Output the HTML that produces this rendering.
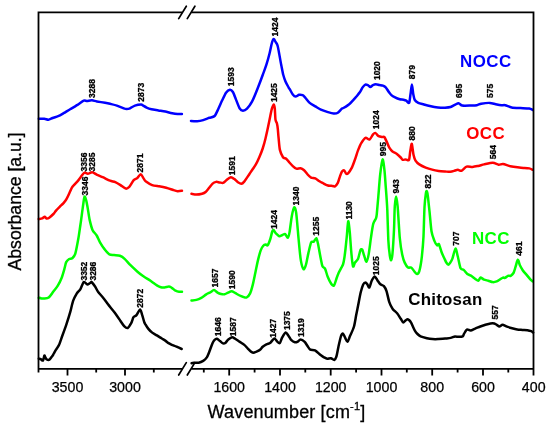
<!DOCTYPE html><html><head><meta charset="utf-8"><style>html,body{margin:0;padding:0;background:#fff;}svg{display:block;filter:blur(0.3px);}</style></head><body>
<svg width="550" height="427" viewBox="0 0 550 427">
<rect width="550" height="427" fill="#fff"/>
<path d="M38.8,118.7C39.5,118.7 43.0,118.6 44.3,118.7C45.6,118.8 47.3,119.8 48.4,119.7C49.5,119.6 51.3,118.5 52.6,118.0C53.9,117.5 56.6,116.8 58.1,116.2C59.6,115.6 61.9,114.2 63.6,113.2C65.3,112.2 68.6,110.1 70.5,109.0C72.4,107.9 75.7,106.0 77.5,104.9C79.3,103.8 82.4,101.2 83.7,100.7C85.0,100.2 86.0,101.1 87.1,101.0C88.2,100.9 90.7,100.2 92.0,100.3C93.3,100.4 95.1,101.1 96.8,101.4C98.5,101.7 103.3,102.5 105.1,102.8C106.9,103.1 108.4,103.4 110.0,103.8C111.6,104.2 115.1,105.0 116.9,105.6C118.7,106.2 122.5,107.8 123.8,108.3C125.1,108.8 125.8,109.0 126.6,109.0C127.4,109.0 128.9,108.8 130.0,108.3C131.1,107.8 133.4,106.1 134.9,105.6C136.4,105.1 140.0,104.6 141.1,104.6C142.2,104.6 142.5,105.2 143.2,105.6C143.9,106.0 145.5,107.1 146.6,107.6C147.7,108.1 149.9,108.9 151.5,109.3C153.1,109.7 156.6,110.1 158.4,110.4C160.2,110.7 163.5,111.1 165.3,111.5C167.1,111.9 170.5,112.9 172.2,113.2C173.9,113.5 176.4,113.8 177.7,113.9C179.0,114.0 181.3,113.9 181.9,113.9" fill="none" stroke="#0000ff" stroke-width="2.50" stroke-linejoin="round" stroke-linecap="round"/>
<path d="M191.0,120.9C191.8,121.0 195.5,121.4 197.1,121.3C198.7,121.2 201.6,120.6 203.2,120.1C204.8,119.6 207.8,118.3 209.3,117.8C210.8,117.3 213.4,117.2 214.6,116.0C215.8,114.8 217.4,110.8 218.4,108.7C219.4,106.6 221.2,102.4 222.2,100.3C223.2,98.2 225.0,94.1 226.0,92.7C227.0,91.3 229.0,89.8 229.9,89.7C230.8,89.6 232.1,90.7 232.9,92.0C233.7,93.3 235.1,97.4 236.0,99.6C236.9,101.8 238.9,107.2 239.8,108.7C240.7,110.2 242.0,110.7 243.0,110.7C244.0,110.7 245.8,109.9 247.0,108.7C248.2,107.5 250.5,104.5 252.0,101.7C253.5,98.9 256.5,91.4 257.9,87.8C259.3,84.2 261.6,78.1 262.7,75.0C263.8,71.9 265.5,67.6 266.4,64.7C267.3,61.8 268.9,56.0 269.6,53.2C270.3,50.4 271.2,45.6 271.7,43.7C272.2,41.8 273.1,39.3 273.6,39.0C274.1,38.7 274.9,40.8 275.4,41.6C275.9,42.4 277.0,43.8 277.5,45.3C278.0,46.8 278.6,50.6 279.1,53.2C279.6,55.8 280.6,61.8 281.2,64.7C281.8,67.6 282.7,72.8 283.3,75.0C283.9,77.2 284.8,79.8 285.5,81.5C286.2,83.2 288.2,86.7 288.8,87.8C289.4,88.9 289.5,88.7 290.0,89.6C290.5,90.5 292.1,93.6 292.8,94.5C293.5,95.4 294.8,96.6 295.6,96.6C296.4,96.6 298.2,95.0 299.1,94.8C300.0,94.6 301.7,94.8 302.6,95.2C303.5,95.6 304.6,97.0 305.5,98.0C306.4,99.0 308.4,101.8 309.7,102.9C311.0,104.0 313.8,105.5 315.3,106.4C316.8,107.3 319.2,108.9 320.9,109.7C322.6,110.5 326.2,111.6 327.9,112.1C329.6,112.6 332.3,113.4 333.6,113.5C334.9,113.6 336.7,113.5 337.8,112.8C338.9,112.1 341.0,109.4 342.0,108.6C343.0,107.8 344.5,107.5 345.5,106.9C346.5,106.3 348.2,105.1 349.2,104.3C350.2,103.5 351.8,101.7 352.7,100.7C353.6,99.7 355.3,97.9 356.2,96.8C357.1,95.7 358.9,93.6 359.8,92.3C360.7,91.0 361.9,88.4 362.6,87.4C363.3,86.4 364.7,84.9 365.4,84.6C366.1,84.3 367.5,85.0 368.2,85.3C368.9,85.6 369.6,87.0 370.3,87.0C371.0,87.0 372.4,85.4 373.1,85.0C373.8,84.6 375.1,84.2 375.9,84.2C376.7,84.2 378.5,84.8 379.4,85.0C380.3,85.2 382.1,85.4 382.9,85.7C383.7,86.0 384.9,86.6 385.7,87.4C386.5,88.2 387.8,90.6 388.6,91.6C389.4,92.6 390.5,94.3 391.4,95.1C392.3,95.9 394.5,97.1 395.6,97.7C396.7,98.3 398.7,99.0 399.8,99.3C400.9,99.6 402.6,99.5 403.5,99.7C404.4,99.9 405.6,100.3 406.3,100.7C407.0,101.1 408.5,103.7 409.1,102.8C409.7,101.9 410.1,96.7 410.5,94.3C410.9,91.9 411.5,84.5 411.9,84.5C412.3,84.5 412.9,92.2 413.3,94.3C413.7,96.4 414.1,98.9 414.8,100.0C415.5,101.1 417.1,102.2 418.3,102.8C419.5,103.4 422.2,104.0 423.9,104.5C425.6,105.0 429.0,105.9 430.9,106.3C432.8,106.7 436.0,107.2 437.9,107.4C439.8,107.6 443.3,107.8 445.0,107.7C446.7,107.6 449.3,107.4 450.6,107.0C451.9,106.6 453.7,105.4 454.8,104.9C455.9,104.4 457.6,103.1 458.6,103.2C459.6,103.3 460.8,105.3 462.3,105.6C463.8,105.9 467.6,105.7 469.5,105.6C471.4,105.5 475.2,105.5 476.8,105.2C478.4,104.9 479.5,104.0 481.2,103.7C482.9,103.4 488.0,102.8 489.9,102.9C491.8,103.0 494.2,103.9 495.7,104.2C497.2,104.5 500.2,105.1 501.5,105.2C502.8,105.3 503.8,104.9 505.2,105.2C506.6,105.5 509.7,107.1 511.7,107.5C513.7,107.9 518.2,108.0 520.5,108.1C522.8,108.2 527.6,108.2 529.2,108.5C530.8,108.8 532.3,109.8 532.8,110.0" fill="none" stroke="#0000ff" stroke-width="2.50" stroke-linejoin="round" stroke-linecap="round"/>
<path d="M38.7,219.1C39.2,219.0 41.4,218.7 42.2,218.4C43.0,218.1 44.1,216.7 44.7,216.7C45.3,216.7 45.8,218.3 46.4,218.4C47.0,218.5 48.3,218.3 49.2,217.7C50.1,217.1 52.5,214.9 53.4,214.0C54.3,213.1 55.2,211.6 56.0,210.6C56.8,209.6 58.7,207.8 59.7,206.8C60.7,205.8 62.6,204.1 63.5,203.1C64.4,202.1 65.6,200.7 66.3,199.4C67.0,198.1 68.4,195.3 69.1,193.7C69.8,192.1 71.2,188.9 71.9,187.6C72.6,186.3 73.8,185.3 74.7,184.3C75.6,183.3 77.5,181.3 78.5,180.1C79.5,178.9 81.4,176.0 82.2,175.0C83.0,174.0 83.9,172.8 84.6,172.6C85.3,172.4 86.8,173.7 87.8,173.7C88.8,173.7 91.0,172.2 92.2,172.3C93.4,172.4 95.2,173.9 96.6,174.6C98.0,175.3 100.9,176.4 102.7,177.2C104.5,178.0 108.3,180.0 110.0,180.7C111.7,181.4 113.9,181.5 115.3,182.1C116.7,182.7 119.1,184.2 120.5,185.1C121.9,186.0 124.6,188.4 125.8,188.6C127.0,188.8 128.2,188.0 129.3,186.9C130.4,185.8 132.6,181.4 133.7,180.2C134.8,179.0 136.3,178.9 137.2,178.1C138.1,177.3 139.9,174.2 140.7,174.2C141.5,174.2 142.7,177.1 143.4,178.1C144.1,179.1 144.8,180.7 146.0,181.6C147.2,182.5 150.4,184.5 152.1,185.1C153.8,185.7 157.2,186.0 159.1,186.3C161.0,186.6 164.3,187.2 166.2,187.7C168.1,188.2 171.7,189.5 173.2,190.0C174.7,190.5 176.4,191.1 177.6,191.2C178.8,191.3 181.4,190.8 182.0,190.7" fill="none" stroke="#ff0000" stroke-width="2.50" stroke-linejoin="round" stroke-linecap="round"/>
<path d="M191.5,193.8C192.2,193.9 195.0,194.5 196.4,194.5C197.8,194.5 200.9,194.0 202.1,193.7C203.3,193.4 204.7,192.8 205.6,192.0C206.5,191.2 208.2,188.9 209.1,187.8C210.0,186.7 211.7,184.4 212.6,183.6C213.5,182.8 215.2,182.1 216.1,181.9C217.0,181.7 218.7,182.3 219.6,182.4C220.5,182.5 222.2,183.2 223.1,182.9C224.0,182.6 225.6,180.8 226.6,180.0C227.6,179.2 229.9,177.3 230.9,177.2C231.9,177.1 233.5,178.4 234.4,179.1C235.3,179.8 237.0,181.6 237.9,182.2C238.8,182.8 240.6,183.9 241.4,183.8C242.2,183.7 243.1,182.9 244.2,181.6C245.3,180.3 248.2,175.8 249.3,174.2C250.4,172.6 251.7,170.6 252.6,169.3C253.5,168.0 255.1,165.8 256.0,164.2C256.9,162.6 258.5,159.1 259.4,157.0C260.3,154.9 261.9,151.0 262.7,148.5C263.5,146.0 264.8,141.5 265.5,138.5C266.2,135.5 267.6,129.3 268.2,126.3C268.8,123.3 269.8,118.4 270.3,116.0C270.8,113.6 271.4,110.1 271.9,108.6C272.4,107.1 273.3,104.4 273.7,104.4C274.1,104.4 274.6,106.6 274.8,108.6C275.0,110.6 275.2,117.6 275.5,119.6C275.8,121.6 276.6,122.1 276.9,123.3C277.2,124.5 277.6,126.9 277.8,128.9C278.0,130.9 278.3,135.2 278.6,138.0C278.9,140.8 279.3,147.3 279.9,149.9C280.5,152.5 282.2,156.0 283.0,157.2C283.8,158.4 285.3,158.0 286.2,158.7C287.1,159.4 288.5,161.5 289.4,162.5C290.3,163.5 291.9,165.3 292.8,166.1C293.7,166.9 295.3,168.3 296.3,168.6C297.3,168.9 299.5,168.0 300.5,168.2C301.5,168.4 303.2,169.5 304.1,170.3C305.0,171.1 306.7,173.5 307.6,174.5C308.5,175.5 310.1,177.1 311.1,177.6C312.1,178.1 314.2,177.9 315.3,178.4C316.4,178.9 318.4,180.6 319.5,181.3C320.6,182.0 322.6,183.0 323.7,183.6C324.8,184.2 326.9,185.2 327.9,185.5C328.9,185.8 330.5,185.6 331.4,185.7C332.3,185.8 334.1,186.8 335.0,186.4C335.9,186.0 337.1,184.2 337.8,182.9C338.5,181.6 339.3,178.1 339.9,176.6C340.5,175.1 341.4,172.2 342.0,171.4C342.6,170.6 343.5,170.0 344.1,170.3C344.7,170.6 345.6,173.4 346.2,173.8C346.8,174.2 347.6,173.8 348.3,173.1C349.0,172.4 350.7,169.9 351.6,168.2C352.5,166.5 353.9,162.4 354.8,160.0C355.7,157.6 357.2,152.4 358.1,150.1C359.0,147.8 360.4,144.4 361.4,142.8C362.4,141.2 364.4,138.2 365.5,137.8C366.6,137.4 368.6,139.9 369.6,139.5C370.6,139.1 372.1,135.5 372.9,134.6C373.7,133.7 374.5,132.7 375.3,132.9C376.1,133.1 377.7,135.7 378.6,136.2C379.5,136.7 381.1,136.9 381.9,137.0C382.7,137.1 383.6,136.3 384.3,137.0C385.0,137.7 386.1,140.5 386.8,141.9C387.5,143.3 388.5,146.4 389.3,147.7C390.1,149.0 391.5,150.7 392.5,151.5C393.5,152.3 395.5,153.0 396.6,153.8C397.7,154.6 399.9,156.7 400.7,157.5C401.5,158.3 401.9,159.5 402.6,159.8C403.3,160.1 404.9,159.4 405.8,159.4C406.7,159.4 408.4,161.0 409.0,159.9C409.6,158.8 409.9,153.0 410.3,150.9C410.7,148.8 411.4,143.3 411.8,143.8C412.2,144.3 413.0,152.6 413.5,154.8C414.0,157.0 414.7,159.3 415.5,160.6C416.3,161.9 417.9,163.5 419.3,164.4C420.7,165.3 424.0,166.9 425.7,167.6C427.4,168.3 430.5,169.2 432.2,169.6C433.9,170.0 436.9,170.6 438.6,170.9C440.3,171.2 443.6,171.4 445.1,171.5C446.6,171.6 449.0,171.9 450.2,171.8C451.4,171.7 453.1,171.2 454.1,170.9C455.1,170.6 456.9,169.8 457.9,169.8C458.9,169.8 460.3,171.2 461.5,170.8C462.7,170.4 465.1,167.1 466.6,166.6C468.1,166.1 470.9,167.0 472.5,166.9C474.1,166.8 476.8,166.2 478.3,165.9C479.8,165.6 482.2,164.8 484.1,164.4C486.0,164.0 490.9,162.8 492.8,162.8C494.7,162.8 497.2,164.5 498.6,164.7C500.0,164.9 501.4,163.8 503.0,164.0C504.6,164.2 508.4,165.8 510.3,166.2C512.2,166.6 515.8,167.1 517.5,167.3C519.2,167.5 521.8,167.8 523.4,167.9C525.0,168.0 527.9,168.1 529.2,168.4C530.5,168.7 532.3,169.6 532.8,169.8" fill="none" stroke="#ff0000" stroke-width="2.50" stroke-linejoin="round" stroke-linecap="round"/>
<path d="M38.8,297.8C39.2,297.9 40.9,298.3 41.6,298.4C42.3,298.5 43.2,298.7 44.1,298.6C45.0,298.5 47.5,298.4 48.7,297.5C49.9,296.6 52.0,293.4 53.2,291.8C54.4,290.2 56.7,287.5 57.8,285.7C58.9,283.9 60.7,280.3 61.6,278.0C62.5,275.7 64.0,270.3 64.6,268.2C65.2,266.1 65.6,263.3 66.2,262.1C66.8,260.9 68.4,259.5 69.2,259.0C70.0,258.5 71.4,259.0 72.2,258.3C73.0,257.6 74.5,256.4 75.3,253.7C76.1,251.0 77.7,242.2 78.4,238.3C79.1,234.4 79.9,228.2 80.5,224.3C81.1,220.4 82.1,212.3 82.6,208.9C83.1,205.5 83.7,200.6 84.0,199.0C84.3,197.4 84.6,196.4 84.9,196.6C85.2,196.8 85.8,199.0 86.2,200.4C86.6,201.8 87.1,204.8 87.6,207.4C88.1,210.0 89.0,217.1 89.7,220.1C90.4,223.1 91.6,227.8 92.5,229.9C93.4,232.0 95.7,233.8 96.7,235.5C97.7,237.2 98.9,240.4 100.0,242.3C101.1,244.2 103.4,247.8 104.7,249.4C106.0,251.0 108.1,253.6 109.4,254.3C110.7,255.0 112.7,254.8 114.1,255.0C115.5,255.2 118.5,255.3 119.9,255.8C121.3,256.3 123.2,257.5 124.6,258.8C126.0,260.1 128.8,263.5 130.5,265.2C132.2,266.9 135.8,270.2 137.5,271.7C139.2,273.2 141.8,275.2 143.4,276.3C145.0,277.4 147.8,279.0 149.2,279.9C150.6,280.8 152.5,282.3 153.6,283.1C154.7,283.9 156.3,285.0 157.3,285.6C158.3,286.2 159.9,287.0 160.9,287.3C161.9,287.6 163.4,287.6 164.5,287.5C165.6,287.4 167.9,286.6 168.9,286.6C169.9,286.6 170.9,287.3 171.8,287.8C172.7,288.3 174.5,290.2 175.5,290.7C176.5,291.2 178.2,291.7 179.1,291.8C180.0,291.9 181.6,291.8 182.0,291.8" fill="none" stroke="#00ff00" stroke-width="2.50" stroke-linejoin="round" stroke-linecap="round"/>
<path d="M191.5,300.6C192.2,300.5 195.1,300.3 196.4,299.9C197.7,299.5 200.0,298.5 201.3,297.8C202.6,297.1 205.1,295.0 206.3,294.3C207.5,293.6 209.5,292.8 210.5,292.2C211.5,291.6 213.1,290.0 214.0,290.1C214.9,290.2 216.6,292.1 217.5,292.6C218.4,293.1 220.1,293.8 221.0,294.0C221.9,294.2 223.6,294.5 224.5,294.3C225.4,294.1 227.1,293.0 228.0,292.6C228.9,292.2 230.7,291.2 231.6,291.2C232.5,291.2 234.2,292.4 235.1,292.9C236.0,293.4 237.6,294.5 238.6,295.0C239.6,295.5 241.7,296.5 242.8,296.8C243.9,297.1 245.6,298.0 246.6,297.5C247.6,297.0 249.3,295.1 250.1,293.4C250.9,291.7 252.1,287.4 252.8,284.6C253.5,281.8 254.7,275.7 255.4,272.4C256.1,269.1 257.3,263.0 258.0,260.1C258.7,257.2 260.0,252.3 260.7,250.4C261.4,248.5 262.6,246.5 263.3,245.7C264.0,244.9 265.3,244.7 265.9,244.6C266.5,244.5 267.1,245.9 267.7,245.2C268.3,244.5 269.7,240.8 270.3,239.0C270.9,237.2 271.7,233.2 272.1,232.0C272.5,230.8 273.1,229.8 273.6,230.0C274.1,230.2 275.1,232.6 275.9,233.4C276.7,234.2 278.4,236.0 279.3,236.2C280.2,236.4 281.7,235.3 282.5,235.0C283.3,234.7 284.5,233.6 285.2,234.0C285.9,234.4 287.2,238.1 287.8,237.8C288.4,237.5 289.1,234.8 289.6,231.9C290.1,229.0 291.2,219.6 291.8,216.3C292.4,213.0 293.6,207.7 294.2,207.3C294.8,206.9 295.6,208.9 296.2,213.0C296.8,217.1 297.9,231.7 298.5,238.0C299.1,244.3 300.1,255.9 300.8,260.1C301.5,264.3 302.9,268.6 303.6,269.2C304.3,269.8 305.4,266.6 306.0,264.5C306.6,262.4 307.7,256.0 308.4,253.1C309.1,250.2 310.4,244.0 311.1,242.5C311.8,241.0 313.0,242.3 313.7,241.7C314.4,241.1 315.7,237.9 316.3,238.2C316.9,238.5 317.5,241.6 318.1,244.3C318.7,247.0 320.1,255.4 320.7,258.3C321.3,261.2 321.9,264.8 322.5,266.2C323.1,267.6 324.4,267.5 325.1,268.9C325.8,270.3 326.9,274.8 327.7,276.8C328.5,278.8 330.4,282.6 331.2,283.8C332.0,285.0 333.2,286.2 333.9,285.5C334.6,284.8 335.9,280.2 336.5,278.5C337.1,276.8 338.0,274.4 338.6,273.0C339.2,271.6 340.4,269.4 341.0,268.3C341.6,267.2 342.5,266.0 343.0,264.5C343.5,263.0 344.2,259.1 344.5,257.0C344.8,254.9 345.2,251.6 345.5,249.0C345.8,246.4 346.3,241.1 346.7,237.4C347.1,233.7 347.8,222.2 348.2,221.4C348.6,220.6 349.3,227.3 349.7,231.3C350.1,235.3 350.8,246.4 351.2,251.1C351.6,255.8 352.5,264.8 353.0,266.3C353.5,267.8 354.3,263.5 355.0,262.5C355.7,261.5 357.4,260.3 358.1,258.7C358.8,257.1 359.9,251.5 360.4,250.3C360.9,249.1 361.7,248.9 362.2,249.6C362.7,250.3 363.6,254.1 364.2,255.7C364.8,257.3 365.8,262.0 366.4,261.8C367.0,261.6 368.1,257.4 368.7,254.1C369.3,250.8 370.4,241.5 371.0,237.4C371.6,233.3 372.6,226.2 373.3,223.7C374.0,221.2 375.5,219.7 376.0,218.4C376.5,217.1 376.5,216.9 376.8,214.0C377.1,211.1 377.8,202.1 378.3,196.8C378.8,191.5 379.6,179.3 380.2,174.3C380.8,169.3 382.0,159.9 382.6,159.4C383.2,158.9 384.1,166.9 384.5,170.6C384.9,174.3 385.4,182.3 385.8,187.5C386.2,192.7 387.0,202.9 387.3,209.9C387.6,216.9 388.0,233.5 388.3,239.7C388.6,245.9 389.5,253.4 389.9,256.1C390.3,258.8 390.8,260.4 391.1,260.2C391.4,260.0 392.0,258.5 392.4,254.4C392.8,250.3 393.7,236.2 394.0,229.8C394.3,223.4 394.5,210.7 394.8,206.2C395.1,201.7 395.7,196.4 396.1,196.4C396.5,196.4 397.1,200.7 397.6,206.2C398.1,211.7 399.2,231.6 399.8,238.0C400.4,244.4 401.5,251.1 402.2,254.4C402.9,257.7 403.9,260.9 404.7,262.6C405.5,264.3 407.1,266.8 408.0,267.5C408.9,268.2 410.3,267.0 411.2,267.5C412.1,268.0 413.7,270.7 414.5,271.6C415.3,272.5 416.3,274.2 417.0,274.1C417.7,274.0 418.7,273.2 419.4,270.8C420.1,268.4 421.4,260.7 421.9,256.1C422.4,251.5 423.2,242.9 423.5,236.4C423.8,229.9 424.2,213.0 424.5,207.2C424.8,201.4 425.6,195.2 425.9,193.1C426.2,191.0 426.6,190.8 426.9,191.4C427.2,192.0 427.7,194.6 428.0,197.3C428.3,200.0 429.0,206.9 429.5,211.4C430.0,215.9 430.9,227.3 431.5,231.2C432.1,235.1 433.6,238.7 434.3,240.6C435.0,242.5 436.5,244.8 437.1,245.3C437.7,245.8 438.4,243.3 439.0,244.3C439.6,245.3 441.1,250.9 441.8,252.8C442.5,254.7 443.8,257.2 444.4,258.5C445.0,259.8 445.8,261.7 446.3,262.5C446.8,263.3 447.7,264.7 448.2,264.7C448.7,264.7 449.6,263.5 450.2,262.7C450.8,261.9 451.7,260.5 452.4,258.6C453.1,256.7 454.8,248.9 455.5,248.6C456.2,248.3 457.1,253.9 457.8,256.5C458.5,259.1 459.8,266.5 460.6,268.3C461.4,270.1 462.8,269.1 463.7,269.9C464.6,270.7 466.3,273.2 467.3,274.0C468.3,274.8 469.9,275.0 470.9,275.6C471.9,276.2 474.0,278.0 475.0,278.7C476.0,279.4 477.7,280.8 478.4,280.7C479.1,280.6 479.8,277.7 480.5,277.6C481.2,277.5 483.0,279.2 484.0,279.6C485.0,280.0 487.2,280.4 488.3,280.7C489.4,281.0 491.4,282.0 492.5,282.1C493.6,282.2 495.7,281.8 496.7,281.4C497.7,281.0 499.4,279.8 500.2,279.3C501.0,278.8 502.3,277.8 503.0,277.6C503.7,277.4 504.4,278.1 505.1,277.9C505.8,277.7 507.2,276.1 507.9,275.8C508.6,275.5 510.0,276.2 510.7,275.8C511.4,275.4 512.8,274.2 513.5,273.0C514.2,271.8 515.0,268.5 515.6,266.7C516.2,264.9 517.2,259.9 517.8,259.7C518.4,259.5 519.2,263.9 519.9,265.3C520.6,266.7 521.9,269.0 522.7,270.2C523.5,271.4 525.3,273.3 526.2,274.4C527.1,275.5 528.9,277.7 529.7,278.6C530.5,279.5 532.1,281.0 532.5,281.4" fill="none" stroke="#00ff00" stroke-width="2.50" stroke-linejoin="round" stroke-linecap="round"/>
<path d="M38.8,358.6C39.1,358.7 40.1,358.8 40.7,359.1C41.3,359.4 42.5,361.0 43.0,360.5C43.5,360.0 44.1,355.9 44.4,355.5C44.7,355.1 45.1,357.0 45.4,357.5C45.7,358.0 46.0,358.8 46.3,359.1C46.6,359.4 47.3,359.7 47.7,359.8C48.1,359.9 49.2,359.8 49.6,359.5C50.0,359.2 50.6,358.3 51.0,357.7C51.4,357.1 52.5,355.9 52.9,355.3C53.3,354.7 53.4,354.2 53.8,353.5C54.2,352.8 55.2,351.0 55.7,350.2C56.2,349.4 57.1,348.1 57.6,347.3C58.1,346.5 58.5,346.1 59.2,344.5C59.9,342.9 61.6,337.7 62.6,335.0C63.6,332.3 65.4,327.4 66.4,324.4C67.4,321.4 69.3,315.4 70.2,312.2C71.1,309.0 72.3,303.1 73.2,300.6C74.1,298.1 75.8,295.1 76.7,293.6C77.6,292.1 79.4,290.8 80.3,289.3C81.2,287.8 82.9,282.7 83.8,282.0C84.7,281.3 86.5,284.3 87.3,284.4C88.1,284.5 89.5,283.3 90.1,283.0C90.7,282.7 91.0,281.7 91.6,282.1C92.2,282.5 94.0,284.9 94.9,286.2C95.8,287.5 97.1,290.5 98.2,292.0C99.3,293.5 101.8,296.1 103.1,297.7C104.4,299.3 106.5,302.3 108.0,304.3C109.5,306.3 113.0,310.3 114.6,312.5C116.2,314.7 119.0,318.8 120.3,320.7C121.6,322.6 123.4,325.4 124.4,326.4C125.4,327.4 126.8,328.4 127.7,328.0C128.6,327.6 130.4,324.5 131.2,323.1C132.0,321.7 132.8,318.3 133.5,317.2C134.2,316.1 135.6,316.1 136.5,315.1C137.4,314.1 139.3,309.5 140.1,309.5C140.9,309.5 141.6,313.4 142.2,315.1C142.8,316.8 143.8,320.9 144.3,322.2C144.8,323.5 145.1,323.8 145.6,324.7C146.1,325.6 147.5,327.8 148.4,328.9C149.3,330.0 151.1,331.7 152.2,332.6C153.3,333.5 155.7,334.6 156.9,335.4C158.1,336.2 160.4,337.6 161.5,338.3C162.6,339.0 164.4,340.0 165.3,340.6C166.2,341.2 167.2,342.3 168.1,342.9C169.0,343.5 170.7,344.3 171.8,344.8C172.9,345.3 175.2,346.1 176.5,346.7C177.8,347.3 181.0,348.7 181.7,349.0" fill="none" stroke="#000" stroke-width="2.50" stroke-linejoin="round" stroke-linecap="round"/>
<path d="M191.6,363.2C191.9,363.1 193.2,362.8 194.1,362.7C195.0,362.6 197.5,362.9 198.7,362.7C199.9,362.5 202.1,361.6 203.2,360.9C204.3,360.2 206.2,358.3 207.0,357.1C207.8,355.9 208.6,353.6 209.3,351.8C210.0,350.0 211.7,345.0 212.4,343.4C213.1,341.8 214.0,340.5 214.6,339.9C215.2,339.3 216.2,338.6 216.9,338.8C217.6,339.0 219.2,340.5 220.0,341.1C220.8,341.7 222.3,343.2 223.0,343.4C223.7,343.6 224.6,343.4 225.3,342.9C226.0,342.4 227.4,340.3 228.3,339.6C229.2,338.9 231.2,337.4 232.1,337.3C233.0,337.2 234.2,338.2 235.2,338.8C236.2,339.4 238.6,341.1 239.8,341.9C241.0,342.7 243.2,344.0 244.3,344.9C245.4,345.8 246.9,347.7 247.8,348.6C248.7,349.5 250.5,351.4 251.3,351.9C252.1,352.4 253.3,352.7 254.1,352.6C254.9,352.5 256.8,351.6 257.6,351.2C258.4,350.8 259.6,350.1 260.3,349.5C261.0,348.9 261.9,347.5 262.7,346.8C263.5,346.1 265.4,344.8 266.4,344.3C267.4,343.8 269.2,343.5 270.0,343.0C270.8,342.5 271.7,341.1 272.3,340.5C272.9,339.9 273.8,338.3 274.5,338.4C275.2,338.5 276.6,341.0 277.3,341.6C278.0,342.2 279.1,343.6 279.8,343.0C280.5,342.4 281.4,338.8 282.2,337.4C283.0,336.0 284.8,332.7 285.7,332.5C286.6,332.3 287.8,335.0 288.6,336.0C289.4,337.0 290.6,339.4 291.4,340.2C292.2,341.0 294.1,342.1 294.9,342.3C295.7,342.5 297.0,342.0 297.7,341.6C298.4,341.2 299.6,339.5 300.5,339.5C301.4,339.5 303.8,341.0 304.7,341.9C305.6,342.8 306.8,345.0 307.5,346.0C308.2,347.0 309.3,349.0 310.3,349.6C311.3,350.2 313.6,349.6 315.0,350.3C316.4,351.0 319.4,354.1 320.6,355.0C321.8,355.9 323.1,356.8 324.0,357.3C324.9,357.8 326.3,358.6 327.2,358.7C328.1,358.8 330.0,358.0 330.9,358.2C331.8,358.4 333.5,360.2 334.2,360.0C334.9,359.8 335.8,358.3 336.4,356.5C337.0,354.7 337.9,349.2 338.5,346.5C339.1,343.8 340.4,337.8 341.0,336.1C341.6,334.4 342.5,333.4 343.0,333.6C343.5,333.8 344.5,336.6 345.1,337.7C345.7,338.8 346.8,342.0 347.5,341.8C348.2,341.6 349.1,338.1 350.0,336.1C350.9,334.1 353.2,329.4 354.0,326.5C354.8,323.6 355.7,317.4 356.3,314.5C356.9,311.6 357.6,308.0 358.2,305.0C358.8,302.0 360.1,294.7 360.8,292.0C361.5,289.3 362.6,285.8 363.2,284.5C363.8,283.2 365.0,282.5 365.5,282.5C366.0,282.5 366.8,283.6 367.3,284.3C367.8,285.0 368.8,288.0 369.4,287.5C370.0,287.0 371.0,282.3 371.7,280.8C372.4,279.3 373.8,276.5 374.6,276.4C375.4,276.3 376.7,279.3 377.5,280.4C378.3,281.5 379.5,283.5 380.4,284.3C381.3,285.1 383.1,285.2 383.9,286.1C384.7,287.0 385.9,289.2 386.6,291.3C387.3,293.4 388.4,299.5 389.2,301.8C390.0,304.1 391.6,307.4 392.7,308.9C393.8,310.4 396.0,311.9 397.1,313.2C398.2,314.5 399.8,317.3 400.6,318.5C401.4,319.7 402.5,322.1 403.2,322.4C403.9,322.7 404.9,320.9 405.5,320.5C406.1,320.1 407.3,319.3 407.8,319.3C408.3,319.3 409.1,320.1 409.5,320.5C409.9,320.9 410.6,321.8 411.1,322.6C411.6,323.4 412.5,325.7 413.0,326.8C413.5,327.9 414.4,329.9 415.0,330.9C415.6,331.9 416.8,333.3 417.5,334.0C418.2,334.7 419.3,335.7 420.6,336.3C421.9,336.9 425.3,337.8 426.9,338.2C428.5,338.6 431.0,339.0 432.5,339.1C434.0,339.2 436.4,339.2 438.1,339.1C439.8,339.0 443.4,338.8 445.1,338.6C446.8,338.4 449.4,338.2 450.7,337.9C452.0,337.6 454.0,336.6 455.0,336.5C456.0,336.4 457.5,336.8 458.5,336.8C459.5,336.8 462.0,336.7 462.7,336.3C463.4,335.9 463.6,334.5 464.1,333.7C464.6,332.9 465.7,330.8 466.2,330.2C466.7,329.6 466.9,329.5 467.5,329.5C468.1,329.5 469.7,330.6 470.7,330.5C471.7,330.4 473.9,329.1 475.2,328.6C476.5,328.1 478.9,327.0 480.3,326.5C481.7,326.0 484.0,325.2 485.4,324.8C486.8,324.4 489.3,323.7 490.5,323.5C491.7,323.3 493.5,323.3 494.3,323.5C495.1,323.7 496.1,324.4 496.8,324.8C497.5,325.2 498.6,326.5 499.4,326.5C500.2,326.5 501.5,324.8 502.5,324.8C503.5,324.8 505.7,326.2 507.0,326.7C508.3,327.2 510.7,327.9 512.1,328.3C513.5,328.7 515.8,329.3 517.2,329.5C518.6,329.7 520.9,329.8 522.3,329.9C523.7,330.0 526.2,330.0 527.4,330.2C528.6,330.4 530.4,330.9 531.2,331.2C532.0,331.5 532.8,332.3 533.1,332.5" fill="none" stroke="#000" stroke-width="2.50" stroke-linejoin="round" stroke-linecap="round"/>
<path d="M37.6,12.4 H182.2 M191.3,12.4 H534.4 M37.6,368.8 H182.2 M191.3,368.8 H534.4 M38.5,12.4 V372.6 M533.5,12.4 V375.6" fill="none" stroke="#000" stroke-width="1.80" stroke-linecap="butt"/>
<path d="M67.5,368.8 V375.6 M96.2,368.8 V372.6 M125.0,368.8 V375.6 M153.8,368.8 V372.6 M203.8,368.8 V372.6 M229.2,368.8 V375.6 M254.6,368.8 V372.6 M280.0,368.8 V375.6 M305.3,368.8 V372.6 M330.7,368.8 V375.6 M356.1,368.8 V372.6 M381.5,368.8 V375.6 M406.8,368.8 V372.6 M432.2,368.8 V375.6 M457.6,368.8 V372.6 M483.0,368.8 V375.6 M508.3,368.8 V372.6" fill="none" stroke="#000" stroke-width="1.80"/>
<path d="M178.70,18.60 L186.30,6.20 M187.30,18.60 L194.90,6.20 M178.70,375.00 L186.30,362.60 M187.30,375.00 L194.90,362.60" fill="none" stroke="#000" stroke-width="1.7" stroke-linecap="round"/>
<text x="67.5" y="392.2" text-anchor="middle" font-family='"Liberation Sans", Arial, sans-serif' font-size="14.2" stroke="#000" stroke-width="0.25">3500</text>
<text x="125.0" y="392.2" text-anchor="middle" font-family='"Liberation Sans", Arial, sans-serif' font-size="14.2" stroke="#000" stroke-width="0.25">3000</text>
<text x="229.2" y="392.2" text-anchor="middle" font-family='"Liberation Sans", Arial, sans-serif' font-size="14.2" stroke="#000" stroke-width="0.25">1600</text>
<text x="280.0" y="392.2" text-anchor="middle" font-family='"Liberation Sans", Arial, sans-serif' font-size="14.2" stroke="#000" stroke-width="0.25">1400</text>
<text x="330.7" y="392.2" text-anchor="middle" font-family='"Liberation Sans", Arial, sans-serif' font-size="14.2" stroke="#000" stroke-width="0.25">1200</text>
<text x="381.5" y="392.2" text-anchor="middle" font-family='"Liberation Sans", Arial, sans-serif' font-size="14.2" stroke="#000" stroke-width="0.25">1000</text>
<text x="432.2" y="392.2" text-anchor="middle" font-family='"Liberation Sans", Arial, sans-serif' font-size="14.2" stroke="#000" stroke-width="0.25">800</text>
<text x="483.0" y="392.2" text-anchor="middle" font-family='"Liberation Sans", Arial, sans-serif' font-size="14.2" stroke="#000" stroke-width="0.25">600</text>
<text x="533.7" y="392.2" text-anchor="middle" font-family='"Liberation Sans", Arial, sans-serif' font-size="14.2" stroke="#000" stroke-width="0.25">400</text>
<text x="207.6" y="417.8" font-family='"Liberation Sans", Arial, sans-serif' font-size="18" letter-spacing="0.15" stroke="#000" stroke-width="0.3">Wavenumber [cm<tspan dy="-8" font-size="11">-1</tspan><tspan dy="8">]</tspan></text>
<text transform="translate(21.3,270.4) rotate(-90)" font-family='"Liberation Sans", Arial, sans-serif' font-size="17.6" stroke="#000" stroke-width="0.3">Absorbance [a.u.]</text>
<text x="460.0" y="66.8" font-family='"Liberation Sans", Arial, sans-serif' font-size="16.9" letter-spacing="0.45" font-weight="bold" fill="#0000ff">NOCC</text>
<text x="466.2" y="139.0" font-family='"Liberation Sans", Arial, sans-serif' font-size="16.9" letter-spacing="0.45" font-weight="bold" fill="#ff0000">OCC</text>
<text x="471.9" y="244.0" font-family='"Liberation Sans", Arial, sans-serif' font-size="16.9" letter-spacing="0.45" font-weight="bold" fill="#00ff00">NCC</text>
<text x="408.2" y="304.5" font-family='"Liberation Sans", Arial, sans-serif' font-size="16.9" letter-spacing="0.25" font-weight="bold" fill="#000">Chitosan</text>
<text transform="translate(94.8,97.9) rotate(-90)" font-family='"Liberation Sans", Arial, sans-serif' font-size="8.5" font-weight="bold" stroke="#000" stroke-width="0.3">3288</text>
<text transform="translate(143.6,101.8) rotate(-90)" font-family='"Liberation Sans", Arial, sans-serif' font-size="8.5" font-weight="bold" stroke="#000" stroke-width="0.3">2873</text>
<text transform="translate(234.2,86.3) rotate(-90)" font-family='"Liberation Sans", Arial, sans-serif' font-size="8.5" font-weight="bold" stroke="#000" stroke-width="0.3">1593</text>
<text transform="translate(278.2,36.4) rotate(-90)" font-family='"Liberation Sans", Arial, sans-serif' font-size="8.5" font-weight="bold" stroke="#000" stroke-width="0.3">1424</text>
<text transform="translate(379.6,80.1) rotate(-90)" font-family='"Liberation Sans", Arial, sans-serif' font-size="8.5" font-weight="bold" stroke="#000" stroke-width="0.3">1020</text>
<text transform="translate(415.4,79.3) rotate(-90)" font-family='"Liberation Sans", Arial, sans-serif' font-size="8.5" font-weight="bold" stroke="#000" stroke-width="0.3">879</text>
<text transform="translate(462.1,98.0) rotate(-90)" font-family='"Liberation Sans", Arial, sans-serif' font-size="8.5" font-weight="bold" stroke="#000" stroke-width="0.3">695</text>
<text transform="translate(492.9,98.0) rotate(-90)" font-family='"Liberation Sans", Arial, sans-serif' font-size="8.5" font-weight="bold" stroke="#000" stroke-width="0.3">575</text>
<text transform="translate(86.9,171.5) rotate(-90)" font-family='"Liberation Sans", Arial, sans-serif' font-size="8.5" font-weight="bold" stroke="#000" stroke-width="0.3">3356</text>
<text transform="translate(95.2,171.5) rotate(-90)" font-family='"Liberation Sans", Arial, sans-serif' font-size="8.5" font-weight="bold" stroke="#000" stroke-width="0.3">3285</text>
<text transform="translate(143.1,172.4) rotate(-90)" font-family='"Liberation Sans", Arial, sans-serif' font-size="8.5" font-weight="bold" stroke="#000" stroke-width="0.3">2871</text>
<text transform="translate(234.6,175.2) rotate(-90)" font-family='"Liberation Sans", Arial, sans-serif' font-size="8.5" font-weight="bold" stroke="#000" stroke-width="0.3">1591</text>
<text transform="translate(276.9,102.1) rotate(-90)" font-family='"Liberation Sans", Arial, sans-serif' font-size="8.5" font-weight="bold" stroke="#000" stroke-width="0.3">1425</text>
<text transform="translate(379.2,129.3) rotate(-90)" font-family='"Liberation Sans", Arial, sans-serif' font-size="8.5" font-weight="bold" stroke="#000" stroke-width="0.3">1024</text>
<text transform="translate(415.3,140.4) rotate(-90)" font-family='"Liberation Sans", Arial, sans-serif' font-size="8.5" font-weight="bold" stroke="#000" stroke-width="0.3">880</text>
<text transform="translate(495.6,159.3) rotate(-90)" font-family='"Liberation Sans", Arial, sans-serif' font-size="8.5" font-weight="bold" stroke="#000" stroke-width="0.3">564</text>
<text transform="translate(87.9,195.5) rotate(-90)" font-family='"Liberation Sans", Arial, sans-serif' font-size="8.5" font-weight="bold" stroke="#000" stroke-width="0.3">3346</text>
<text transform="translate(218.3,287.4) rotate(-90)" font-family='"Liberation Sans", Arial, sans-serif' font-size="8.5" font-weight="bold" stroke="#000" stroke-width="0.3">1657</text>
<text transform="translate(235.1,289.2) rotate(-90)" font-family='"Liberation Sans", Arial, sans-serif' font-size="8.5" font-weight="bold" stroke="#000" stroke-width="0.3">1590</text>
<text transform="translate(276.9,229.0) rotate(-90)" font-family='"Liberation Sans", Arial, sans-serif' font-size="8.5" font-weight="bold" stroke="#000" stroke-width="0.3">1424</text>
<text transform="translate(298.7,205.4) rotate(-90)" font-family='"Liberation Sans", Arial, sans-serif' font-size="8.5" font-weight="bold" stroke="#000" stroke-width="0.3">1340</text>
<text transform="translate(319.2,235.7) rotate(-90)" font-family='"Liberation Sans", Arial, sans-serif' font-size="8.5" font-weight="bold" stroke="#000" stroke-width="0.3">1255</text>
<text transform="translate(351.8,219.6) rotate(-90)" font-family='"Liberation Sans", Arial, sans-serif' font-size="8.5" font-weight="bold" stroke="#000" stroke-width="0.3">1130</text>
<text transform="translate(386.4,156.3) rotate(-90)" font-family='"Liberation Sans", Arial, sans-serif' font-size="8.5" font-weight="bold" stroke="#000" stroke-width="0.3">995</text>
<text transform="translate(399.2,193.4) rotate(-90)" font-family='"Liberation Sans", Arial, sans-serif' font-size="8.5" font-weight="bold" stroke="#000" stroke-width="0.3">943</text>
<text transform="translate(430.6,188.6) rotate(-90)" font-family='"Liberation Sans", Arial, sans-serif' font-size="8.5" font-weight="bold" stroke="#000" stroke-width="0.3">822</text>
<text transform="translate(459.3,245.7) rotate(-90)" font-family='"Liberation Sans", Arial, sans-serif' font-size="8.5" font-weight="bold" stroke="#000" stroke-width="0.3">707</text>
<text transform="translate(521.5,255.8) rotate(-90)" font-family='"Liberation Sans", Arial, sans-serif' font-size="8.5" font-weight="bold" stroke="#000" stroke-width="0.3">461</text>
<text transform="translate(87.2,280.6) rotate(-90)" font-family='"Liberation Sans", Arial, sans-serif' font-size="8.5" font-weight="bold" stroke="#000" stroke-width="0.3">3352</text>
<text transform="translate(95.6,280.6) rotate(-90)" font-family='"Liberation Sans", Arial, sans-serif' font-size="8.5" font-weight="bold" stroke="#000" stroke-width="0.3">3286</text>
<text transform="translate(143.4,307.8) rotate(-90)" font-family='"Liberation Sans", Arial, sans-serif' font-size="8.5" font-weight="bold" stroke="#000" stroke-width="0.3">2872</text>
<text transform="translate(220.7,336.2) rotate(-90)" font-family='"Liberation Sans", Arial, sans-serif' font-size="8.5" font-weight="bold" stroke="#000" stroke-width="0.3">1646</text>
<text transform="translate(236.1,336.2) rotate(-90)" font-family='"Liberation Sans", Arial, sans-serif' font-size="8.5" font-weight="bold" stroke="#000" stroke-width="0.3">1587</text>
<text transform="translate(276.1,337.8) rotate(-90)" font-family='"Liberation Sans", Arial, sans-serif' font-size="8.5" font-weight="bold" stroke="#000" stroke-width="0.3">1427</text>
<text transform="translate(289.7,330.1) rotate(-90)" font-family='"Liberation Sans", Arial, sans-serif' font-size="8.5" font-weight="bold" stroke="#000" stroke-width="0.3">1375</text>
<text transform="translate(304.2,337.1) rotate(-90)" font-family='"Liberation Sans", Arial, sans-serif' font-size="8.5" font-weight="bold" stroke="#000" stroke-width="0.3">1319</text>
<text transform="translate(379.0,275.2) rotate(-90)" font-family='"Liberation Sans", Arial, sans-serif' font-size="8.5" font-weight="bold" stroke="#000" stroke-width="0.3">1025</text>
<text transform="translate(497.6,319.5) rotate(-90)" font-family='"Liberation Sans", Arial, sans-serif' font-size="8.5" font-weight="bold" stroke="#000" stroke-width="0.3">557</text>
</svg></body></html>
